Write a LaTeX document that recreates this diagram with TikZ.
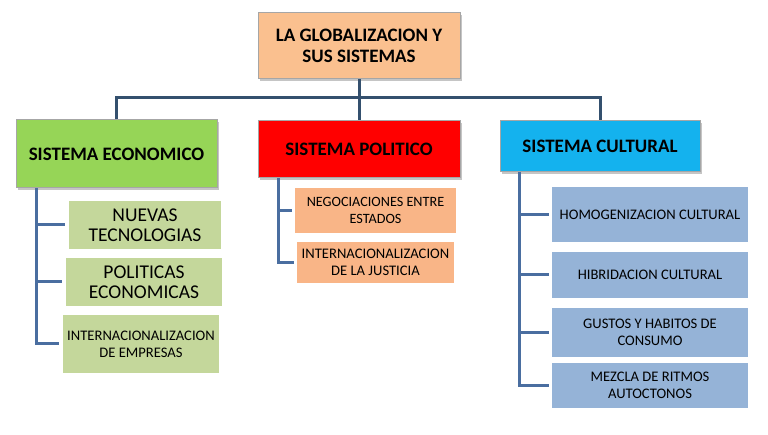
\documentclass[tikz,border=0pt]{standalone}
\usepackage{fontspec}
\setmainfont{Carlito}
\usetikzlibrary{shadows}
\definecolor{peach}{HTML}{FAC08F}
\definecolor{econgreen}{HTML}{96D557}
\definecolor{polred}{HTML}{FF0000}
\definecolor{cultblue}{HTML}{14B2EE}
\definecolor{lightgreen}{HTML}{C4D79B}
\definecolor{salmon}{HTML}{F9B587}
\definecolor{paleblue}{HTML}{95B3D7}
\definecolor{mainline}{HTML}{34506E}
\definecolor{subline}{HTML}{4A6EA0}
\tikzset{
  headbox/.style={draw=black!35, line width=1pt, inner sep=2pt, align=center,
    font=\bfseries\fontsize{19}{21}\selectfont,
    drop shadow={shadow xshift=2pt, shadow yshift=-2pt, fill=black!45}},
  itembox/.style={inner sep=1pt, align=center},
  mainconn/.style={draw=mainline, line width=3pt},
  subconn/.style={draw=subline, line width=3pt},
}
\begin{document}
\begin{tikzpicture}[x=1pt,y=-1pt]
\useasboundingbox (0,0) rectangle (768,435);
\fill[white] (0,0) rectangle (768,435);

% top
\node[headbox, fill=peach, minimum width=202, minimum height=66] (top) at (359,46) {LA GLOBALIZACION Y\\SUS SISTEMAS};
% level 1
\node[headbox, fill=econgreen, minimum width=201, minimum height=68] (econ) at (116.5,154) {SISTEMA ECONOMICO};
\node[headbox, fill=polred, minimum width=202, minimum height=57] (pol) at (359,149.5) {SISTEMA POLITICO};
\node[headbox, fill=cultblue, minimum width=200, minimum height=51] (cult) at (600,146.5) {SISTEMA CULTURAL};

% economic children
\node[itembox, fill=lightgreen, minimum width=152, minimum height=48, font=\fontsize{19.5}{20}\selectfont] (e1) at (145,225) {NUEVAS\\TECNOLOGIAS};
\node[itembox, fill=lightgreen, minimum width=156, minimum height=48, font=\fontsize{19.5}{20}\selectfont] (e2) at (144,282) {POLITICAS\\ECONOMICAS};
\node[itembox, fill=lightgreen, minimum width=156, minimum height=58, font=\fontsize{14.6}{17}\selectfont] (e3) at (141,344) {INTERNACIONALIZACION\\DE EMPRESAS};

% political children
\node[itembox, fill=salmon, minimum width=161, minimum height=45, font=\fontsize{14.2}{16.5}\selectfont] (p1) at (375.5,210.5) {NEGOCIACIONES ENTRE\\ESTADOS};
\node[itembox, fill=salmon, minimum width=157, minimum height=41, font=\fontsize{14.6}{16.5}\selectfont] (p2) at (375.5,262.5) {INTERNACIONALIZACION\\DE LA JUSTICIA};

% cultural children
\node[itembox, fill=paleblue, minimum width=196, minimum height=55, font=\fontsize{14.6}{16.5}\selectfont] (c1) at (650,214.5) {HOMOGENIZACION CULTURAL};
\node[itembox, fill=paleblue, minimum width=196, minimum height=46, font=\fontsize{14.6}{16.5}\selectfont] (c2) at (650,275) {HIBRIDACION CULTURAL};
\node[itembox, fill=paleblue, minimum width=196, minimum height=49, font=\fontsize{14.6}{16.5}\selectfont] (c3) at (650,332.5) {GUSTOS Y HABITOS DE\\CONSUMO};
\node[itembox, fill=paleblue, minimum width=196, minimum height=45, font=\fontsize{14.6}{16.5}\selectfont] (c4) at (650,385.5) {MEZCLA DE RITMOS\\AUTOCTONOS};

% main connectors
\coordinate (j) at (359,98);
\draw[mainconn] (top.south) -- (j);
\draw[mainconn] (econ.north) -- (econ.north |- j) -- (cult.north |- j) -- (cult.north);
\draw[mainconn] (pol.north |- j) -- (pol.north);

% economic tree
\coordinate (et) at ([xshift=21]econ.south west);
\draw[subconn] (et) |- ([xshift=-4]e3.west);
\draw[subconn] (et |- e1.west) -- ([xshift=-4]e1.west);
\draw[subconn] (et |- e2.west) -- ([xshift=-4]e2.west);

% political tree
\coordinate (pt) at ([xshift=21]pol.south west);
\draw[subconn] (pt) |- ([xshift=-3]p2.west);
\draw[subconn] (pt |- p1.west) -- ([xshift=-3]p1.west);

% cultural tree
\coordinate (ct) at ([xshift=20]cult.south west);
\draw[subconn] (ct) |- ([xshift=-3]c4.west);
\draw[subconn] (ct |- c1.west) -- ([xshift=-3]c1.west);
\draw[subconn] (ct |- c2.west) -- ([xshift=-3]c2.west);
\draw[subconn] (ct |- c3.west) -- ([xshift=-3]c3.west);
\end{tikzpicture}
\end{document}
